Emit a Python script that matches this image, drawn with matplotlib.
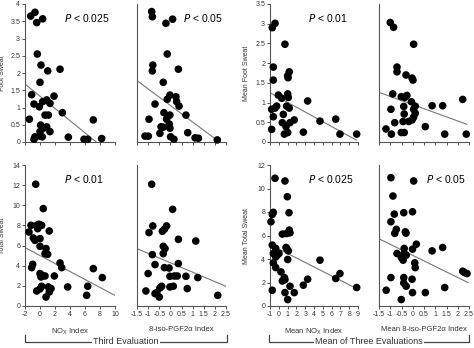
import matplotlib
matplotlib.use("Agg")
import matplotlib.pyplot as plt
from matplotlib.lines import Line2D

plt.rcParams['font.family'] = ['Liberation Sans', 'DejaVu Sans']

# third evaluation - foot sweat
nox3_foot_x = [-1.24, -0.67, -0.44, 0.36, -0.36, 0.13, 1.03, 2.67, 0.0, -1.11, 1.87, -0.8,
               -0.09, 0.36, 0.89, 1.33, 0.67, 1.11, 2.98, -1.42, 0.09, 0.44, 0.0, 0.89,
               1.33, -0.67, 0.0, 0.3, -0.8, 3.78, 5.87, 6.36, 7.11, 8.22]
foot3_a = [3.65, 3.76, 3.46, 3.57, 2.55, 2.23, 2.06, 2.11, 1.73, 1.37, 1.33, 1.1,
           1.02, 1.17, 1.22, 1.12, 0.78, 0.78, 0.85, 0.66, 0.49, 0.40, 0.30, 0.44,
           0.30, 0.15, 0.17, 0.15, 0.08, 0.14, 0.08, 0.08, 0.64, 0.1]
iso3_foot_x = [-0.84, -0.81, -0.2, 0.1, -0.14, -0.79, -0.81, 0.36, -0.32, -0.02, -0.14,
               0.25, 0.28, 0.39, -0.69, -0.29, -0.02, -0.17, 0.70, -0.96, -0.05, -0.42,
               -0.32, -0.02, -0.47, 0.78, -1.14, -0.99, 0.01, 0.16, 1.11, 1.26, 2.11]
foot3_b = [3.78, 3.63, 3.44, 3.56, 2.55, 2.23, 2.06, 2.11, 1.73, 1.36, 1.24,
           1.31, 1.17, 1.04, 1.10, 0.85, 0.78, 0.66, 0.78, 0.66, 0.52, 0.44,
           0.43, 0.40, 0.25, 0.27, 0.17, 0.17, 0.15, 0.08, 0.12, 0.11, 0.06]

# mean of three - foot sweat
mnox_foot_x = [-0.74, -0.43, 0.70, -0.62, -0.62, 1.19, 1.01, 1.05, -0.05, 0.33, 1.01,
               1.08, 3.28, -0.81, -0.43, -0.24, 0.89, 1.19, -0.62, 0.51, 0.40, 1.27,
               1.76, 0.82, -0.81, 0.63, 1.01, 2.79, 4.68, 6.47, 6.95, 8.85]
mfoot_a = [2.90, 3.01, 2.48, 1.90, 1.57, 1.78, 1.68, 1.63, 1.19, 1.11, 1.22,
           1.13, 1.04, 0.83, 0.86, 0.91, 0.91, 0.86, 0.64, 0.70, 0.49, 0.49,
           0.56, 0.39, 0.32, 0.20, 0.24, 0.25, 0.53, 0.58, 0.20, 0.20]
miso_foot_x = [-1.0, -0.85, 0.04, -0.70, -0.70, -0.30, -0.03, 0.01, -0.89, -0.51, -0.36,
               -0.26, 2.22, -0.06, -0.40, 0.11, 0.86, 1.33, -0.97, 0.04, -0.38, 0.11,
               0.04, -0.03, -0.18, -0.43, -0.80, 0.56, -1.19, -0.95, -0.51, -0.38, 1.42, 2.38]
mfoot_b = [3.03, 2.91, 2.48, 1.90, 1.78, 1.70, 1.62, 1.57, 1.22, 1.15, 1.13,
           1.18, 1.08, 1.02, 0.90, 0.91, 0.92, 0.92, 0.83, 0.83, 0.71, 0.73,
           0.63, 0.56, 0.52, 0.52, 0.49, 0.39, 0.33, 0.20, 0.24, 0.24, 0.20, 0.20]

# third evaluation - total sweat
nox3_total_x = [-0.57, 0.44, -1.2, -1.47, -0.44, -0.13, 0.22, -0.31, 1.24, -0.67, 0.0,
                0.0, 0.8, 0.67, 1.02, -0.89, -0.97, -1.11, 2.67, 2.89, 7.11, 8.31,
                0.0, 0.31, 0.67, 0.13, 1.91, 6.36, 3.69, -0.44, 0.22, 0.0, 1.11,
                1.47, 1.24, 0.8, 6.22]
total3_a = [12.09, 9.67, 8.01, 7.35, 8.01, 8.11, 8.01, 7.68, 7.45, 6.52, 6.69,
            5.93, 5.70, 5.20, 5.13, 6.75, 4.14, 3.81, 4.27, 3.81, 3.71, 2.82,
            3.22, 3.05, 2.98, 2.88, 2.98, 1.96, 1.89, 1.49, 1.96, 1.7, 1.89,
            1.73, 1.39, 0.89, 1.06]
iso3_total_x = [-0.84, 0.10, -0.79, -0.96, -0.17, -0.27, -0.36, 0.36, 1.14, -0.32, -0.24,
                -0.81, -0.32, -0.69, -0.27, -0.06, 0.36, -1.0, -0.02, 0.18, 0.31, 0.70,
                1.23, -0.39, -0.47, -0.02, 0.13, -0.61, -0.69, -1.10, 0.76, -0.50, 2.13]
total3_b = [12.09, 9.60, 7.95, 7.29, 7.95, 7.62, 7.42, 6.62, 6.45, 5.93, 5.70,
            5.10, 5.20, 4.11, 3.81, 3.77, 4.21, 3.22, 2.95, 2.98, 2.98, 2.95,
            2.82, 1.96, 1.79, 1.89, 1.96, 1.33, 1.23, 1.49, 1.73, 0.89, 1.06]

# mean of three - total sweat
mnox_total_x = [-0.43, 0.70, 0.97, -0.62, -0.74, 1.16, -0.89, 1.19, 1.27, 0.40, 0.89,
                -0.74, -0.35, 0.82, 1.08, 0.9, -0.62, -0.17, 0.02, -0.35, 1.01, 4.68,
                -0.62, -0.35, 0.25, 0.63, 0.40, 0.70, 3.28, 6.47, 6.95, 2.79, 1.27,
                -0.74, 0.70, 1.76, 1.01, 8.85]
mtotal_a = [10.87, 10.64, 9.30, 7.97, 7.80, 7.94, 7.17, 6.46, 6.23, 6.12, 6.17,
            5.18, 4.90, 4.98, 4.69, 4.9, 4.47, 4.33, 4.47, 4.18, 3.96, 3.90,
            3.67, 3.27, 2.90, 2.42, 2.13, 2.25, 2.28, 2.34, 2.76, 1.77, 1.68,
            1.34, 1.14, 1.14, 0.55, 1.57]
miso_total_x = [-0.97, 0.04, -0.88, -0.82, -0.40, -0.01, -0.97, -0.73, -0.80, -0.33, -0.3,
                0.16, -0.01, -0.38, 0.86, 1.33, -0.38, -0.70, -0.51, -0.43, -0.29, 0.09,
                0.11, 2.22, 2.41, 2.3, -0.97, -0.40, -0.03, -0.40, -0.29, 1.42, -1.18,
                -0.01, 0.56, -0.51]
mtotal_b = [10.92, 10.64, 9.36, 7.82, 7.94, 8.02, 7.17, 6.52, 6.18, 6.31, 6.2,
            5.26, 4.84, 4.90, 4.69, 4.98, 4.47, 4.47, 4.13, 3.90, 4.33, 3.67,
            3.27, 2.96, 2.76, 2.85, 2.42, 2.42, 2.28, 1.96, 1.68, 1.57, 1.34,
            1.14, 1.14, 0.55]

# regression lines (end points)
fit_x = [[-2, 7.5], [-1.5, 2.0], [-1, 8.8], [-1.5, 2.4],
         [-2, 10], [-1.5, 2.5], [-0.8, 8.8], [-1.5, 2.45]]
fit_y = [[1.68, 0.0], [1.78, 0.1], [1.25, 0.05], [1.26, 0.45],
         [5.8, 1.05], [5.7, 1.95], [5.15, 1.5], [5.72, 2.0]]

p_labels = ["0.025", "0.05", "0.01", None, "0.01", None, "0.025", "0.05"]

foot_ticks = [0, 0.5, 1, 1.5, 2, 2.5, 3, 3.5, 4]
mfoot_ticks = [0, 0.5, 1, 1.5, 2, 2.5, 3, 3.5]
total_ticks = [0, 2, 4, 6, 8, 10, 12, 14]
mtotal_ticks = [0, 2, 4, 6, 8, 10, 12]
nox_ticks = [-2, 0, 2, 4, 6, 8, 10]
iso_ticks = [-1.5, -1, -0.5, 0, 0.5, 1, 1.5, 2, 2.5]
mnox_ticks = [-1, 0, 1, 2, 3, 4, 5, 6, 7, 8, 9]


def fmt(v):
    return ("%g" % v)


fig = plt.figure(figsize=(4.74, 3.48), dpi=100)
W, H = 474.0, 348.0

# (left px, right px, top px, bottom px)
boxes = [(25, 115, 4, 142), (137, 226, 4, 142), (270, 358, 4, 142), (379, 469, 4, 142),
         (25, 115, 165, 306), (137, 226, 165, 306), (270, 358, 165, 306), (379, 469, 165, 306)]
xs = [nox3_foot_x, iso3_foot_x, mnox_foot_x, miso_foot_x,
      nox3_total_x, iso3_total_x, mnox_total_x, miso_total_x]
ys = [foot3_a, foot3_b, mfoot_a, mfoot_b, total3_a, total3_b, mtotal_a, mtotal_b]
xticks = [nox_ticks, iso_ticks, mnox_ticks, iso_ticks] * 2
yticks = [foot_ticks, foot_ticks, mfoot_ticks, mfoot_ticks,
          total_ticks, total_ticks, mtotal_ticks, mtotal_ticks]
ylabels = ["Foot Sweat", None, "Mean Foot Sweat", None,
           "Total Sweat", None, "Mean Total Sweat", None]
xlabels = [None, None, None, None,
           "NO$_\\mathregular{X}$ Index", "8-iso-PGF2\u03b1 Index",
           "Mean NO$_\\mathregular{X}$ Index", "Mean 8-iso-PGF2\u03b1 Index"]
ylabel_px = [6, None, 250, None, 6, None, 250, None]

for i in range(8):
    l, r, t, b = boxes[i]
    ax = fig.add_axes([l / W, 1 - b / H, (r - l) / W, (b - t) / H])
    ax.scatter(xs[i], ys[i], s=30, color="black", edgecolors="none", zorder=3, clip_on=False)
    ax.plot(fit_x[i], fit_y[i], color="#777777", lw=0.8, zorder=2)
    ax.set_xlim(xticks[i][0], xticks[i][-1])
    ax.set_ylim(yticks[i][0], yticks[i][-1])
    for s in ["top", "right"]:
        ax.spines[s].set_visible(False)
    ax.spines["left"].set_linewidth(0.8)
    ax.spines["bottom"].set_linewidth(0.8)
    ax.spines["left"].set_color("#555555")
    ax.spines["bottom"].set_color("#555555")
    ax.set_xticks(xticks[i])
    ax.tick_params(axis="both", length=2, width=0.6, pad=1.5, labelsize=5, colors="#333333")
    if i < 4:
        ax.set_xticklabels([])
    else:
        ax.set_xticklabels([fmt(v) for v in xticks[i]])
    if ylabels[i] is None:
        ax.set_yticks([])
    else:
        ax.set_yticks(yticks[i])
        ax.set_yticklabels([fmt(v) for v in yticks[i]])
        ax.set_ylabel(ylabels[i], fontsize=5, color="#333333")
        ax.yaxis.set_label_coords((ylabel_px[i] - l) / (r - l), 0.5)
    if xlabels[i] is not None:
        ax.set_xlabel(xlabels[i], fontsize=5.5, labelpad=6, color="#333333")
    if p_labels[i] is not None:
        ax.text(0.43 if i % 2 == 0 else 0.52, 0.9, "$\\it{P}$ < " + p_labels[i],
                transform=ax.transAxes, fontsize=7.5, va="center", ha="left")

# brackets under the bottom row
def bracket(x0, x1, label):
    y0, y1 = 1 - 335 / H, 1 - 342 / H
    fig.add_artist(Line2D([x0 / W, x0 / W, x1 / W, x1 / W], [y0, y1, y1, y0],
                          transform=fig.transFigure, color="#444444", lw=0.9))
    fig.text((x0 + x1) / 2 / W, y1, label, ha="center", va="center", fontsize=6.5,
             color="#333333", bbox=dict(facecolor="white", edgecolor="none", pad=0.6))

bracket(25, 227, "Third Evaluation")
bracket(269, 469, "Mean of Three Evaluations")

fig.savefig("out.png", dpi=100)
